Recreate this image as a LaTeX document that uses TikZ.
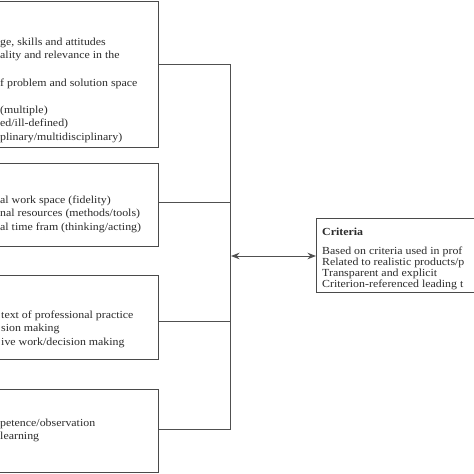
\documentclass[tikz,border=0pt]{standalone}
\usepackage{fontspec}
\setmainfont{Liberation Serif}[FakeStretch=1.1]
\usepackage{xcolor}
\usetikzlibrary{arrows.meta,positioning}
\definecolor{framegray}{HTML}{4A4A4A}
\definecolor{linegray}{HTML}{505050}
\definecolor{inkgray}{HTML}{2B2B2B}
\tikzset{
  panel/.style={
    rectangle,
    draw=framegray,
    line width=1.2pt,
    fill=white,
    inner sep=0pt
  },
  body/.style={
    anchor=north west,
    inner sep=0pt,
    align=left,
    text=inkgray,
    font=\fontsize{10.8}{13.6}\selectfont
  },
  crittext/.style={
    anchor=north west,
    inner sep=0pt,
    align=left,
    text=inkgray,
    font=\fontsize{10.8}{10.8}\selectfont
  },
  link/.style={draw=linegray, line width=1pt},
  both/.style={{Stealth[length=3mm,width=2.3mm]}-{Stealth[length=3mm,width=2.3mm]}, draw=linegray, line width=1pt}
}

\begin{document}
\begin{tikzpicture}[x=1pt,y=-1pt]
  \useasboundingbox (0,0) rectangle (474,474);
  \clip (0,0) rectangle (474,474);

  % left column of boxes, cut off on the left
  \node[panel, anchor=north east, minimum width=400pt, minimum height=146pt] (knowbox) at (159,1) {};
  \node[panel, anchor=north east, minimum width=400pt, minimum height=83pt] (taskbox) at (159,163) {};
  \node[panel, anchor=north east, minimum width=400pt, minimum height=84pt] (ctxbox) at (159,275) {};
  \node[panel, anchor=north east, minimum width=400pt, minimum height=83pt] (formbox) at (159,389) {};

  \node[body] (knowtxt) at (0,35.5) {\strut ge, skills and attitudes\\ality and relevance in the\\[13.6pt]f problem and solution space\\[13.6pt](multiple)\\ed/ill-defined)\\plinary/multidisciplinary)};
  \node[body] (tasktxt) at (0,193.5) {\strut al work space (fidelity)\\nal resources (methods/tools)\\al time fram (thinking/acting)};
  \node[body] (ctxtxt) at (1,308.5) {\strut text of professional practice\\sion making\\ive work/decision making};
  \node[body] (formtxt) at (0,416.5) {\strut petence/observation\\learning};

  % criteria box on the right
  \node[panel, anchor=north west, minimum width=300pt, minimum height=74pt] (critbox) at (316,218) {};
  \node[crittext] (crittxt) at (322,227.5) {\strut\textbf{Criteria}\\[7.5pt]Based on criteria used in prof\\Related to realistic products/p\\Transparent and explicit\\Criterion-referenced leading t};

  % spine
  \coordinate (j1) at (230,64);
  \coordinate (j2) at (230,202);
  \coordinate (j3) at (230,321);
  \coordinate (j4) at (230,429);
  \coordinate (hub) at (230,256);

  \draw[link] (knowbox.east |- j1) -- (j1) -- (j4) -- (formbox.east |- j4);
  \draw[link] (taskbox.east |- j2) -- (j2);
  \draw[link] (ctxbox.east |- j3) -- (j3);
  \draw[both] ([xshift=1pt]hub) -- (critbox.west |- hub);
\end{tikzpicture}
\end{document}
